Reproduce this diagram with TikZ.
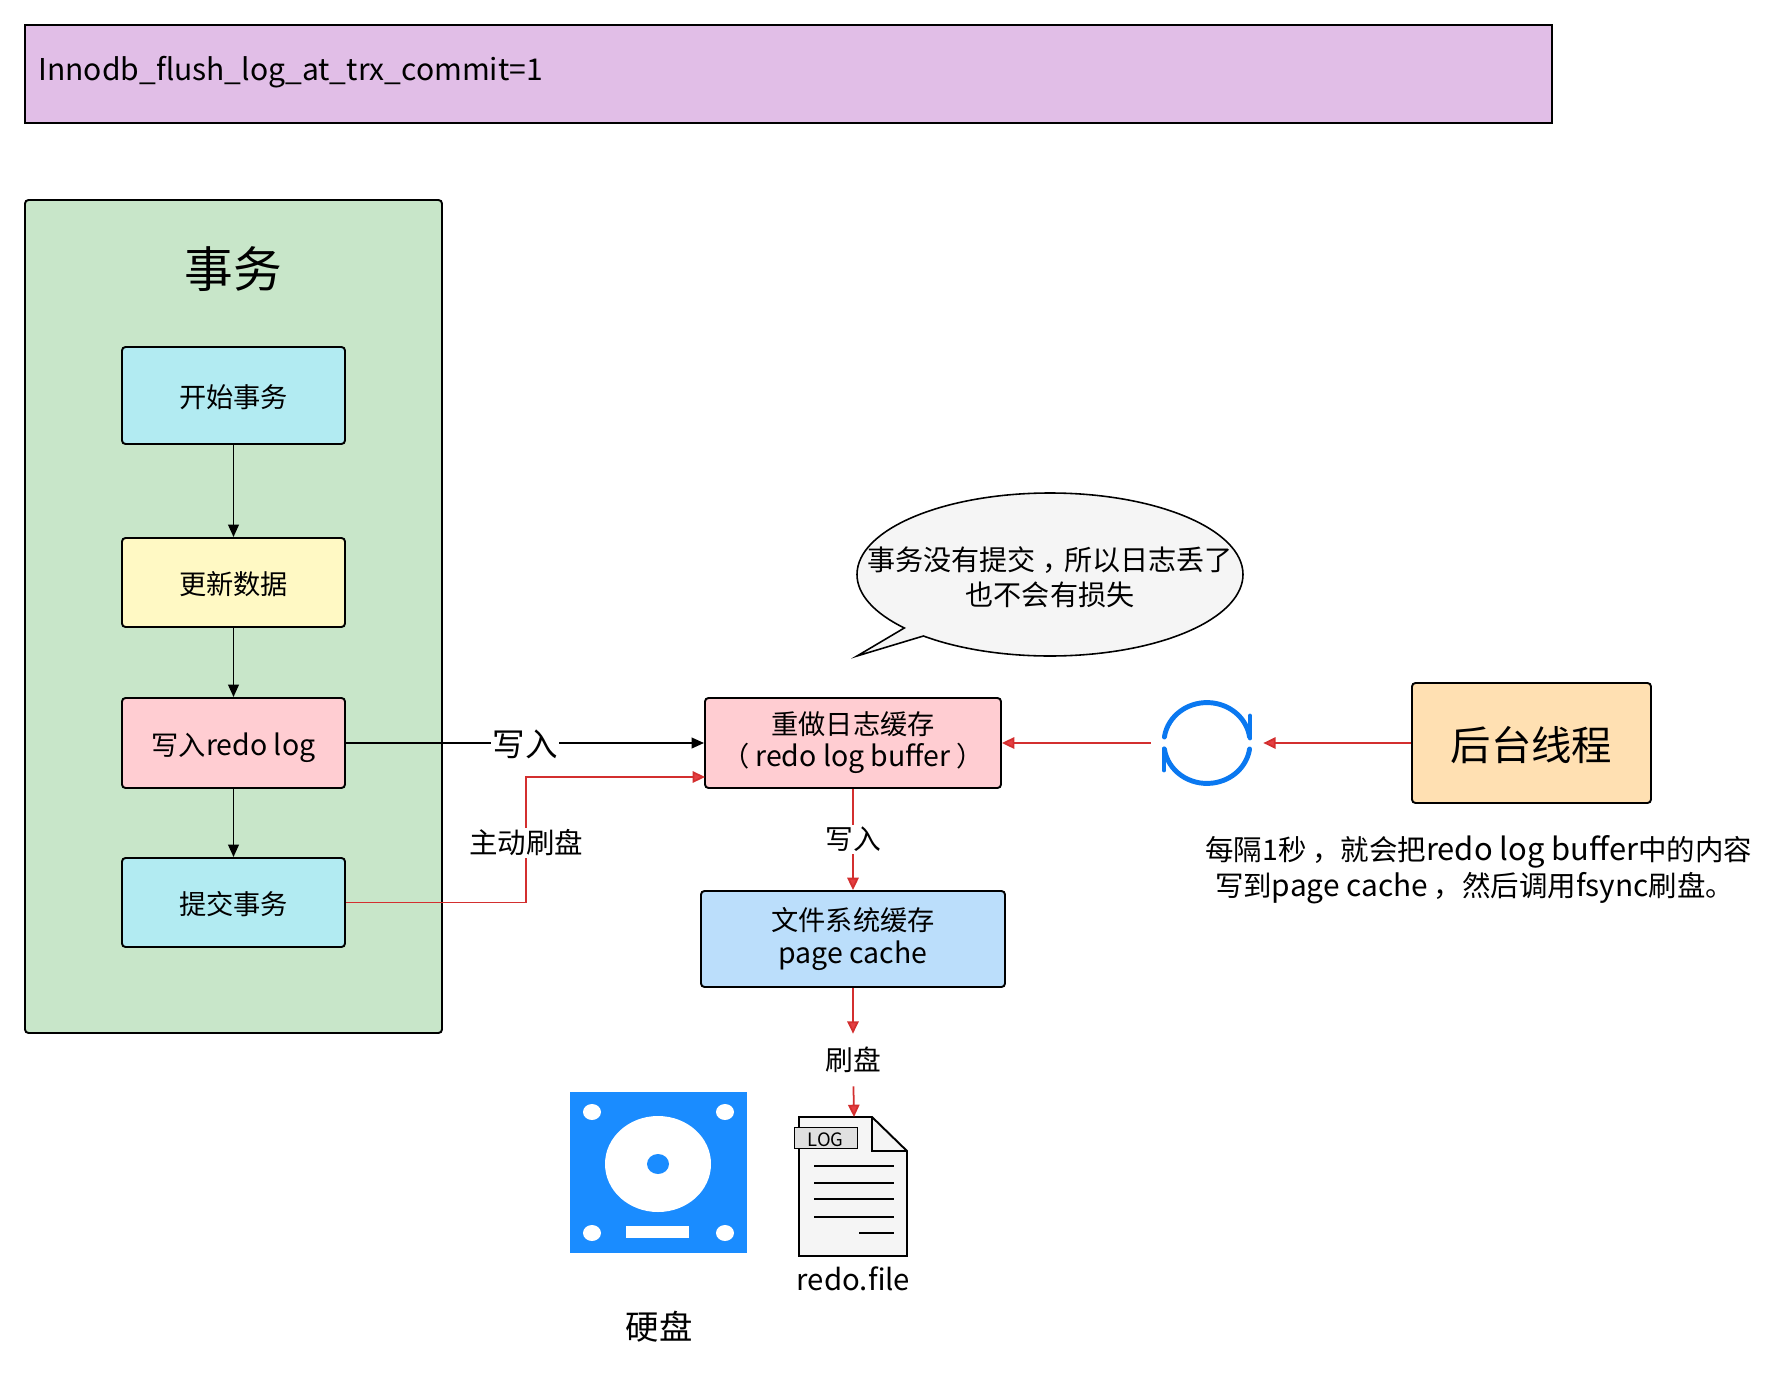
\documentclass[tikz,border=0pt]{standalone}
\usepackage{fontspec}
\setmainfont{Noto Sans CJK SC}
\usetikzlibrary{arrows.meta,shapes.callouts}
\definecolor{barfill}{HTML}{E1BEE7}
\definecolor{panelfill}{HTML}{C8E6C9}
\definecolor{cyanfill}{HTML}{B2EBF2}
\definecolor{yellowfill}{HTML}{FFF9C4}
\definecolor{pinkfill}{HTML}{FFCDD2}
\definecolor{bluefill}{HTML}{BBDEFB}
\definecolor{orangefill}{HTML}{FFE0B2}
\definecolor{greyfill}{HTML}{F5F5F5}
\definecolor{redline}{HTML}{D32F2F}
\definecolor{redtip}{HTML}{E53F42}
\definecolor{diskblue}{HTML}{1A8CFF}
\definecolor{loopblue}{HTML}{0A78F0}
\newcommand{\lat}[2][16.2pt]{{\fontsize{#1}{18.5pt}\selectfont #2}}
\newcommand{\wcomma}{\hspace{0.2em}，}
\tikzset{
  box/.style={draw, line width=1.1pt, rounded corners=2pt, align=center, inner sep=0pt,
    font=\fontsize{15.5pt}{18.5pt}\selectfont,
    execute at begin node={\rule[-4.3pt]{0pt}{22.6pt}}},
  blackarrow/.style={-{Triangle[length=7pt,width=6pt]}, line width=1.1pt, black},
  redarrow/.style={-{Triangle[length=7pt,width=6.5pt,fill=redtip]}, line width=1pt, redline},
  lab/.style={fill=white, inner sep=1pt, text=black, font=\fontsize{15.8pt}{18pt}\selectfont},
}
\begin{document}
\begin{tikzpicture}
    \def\x{0.02}
    \def\y{-0.02}
    \useasboundingbox (0, 0) rectangle (1781*\x, 1380*\y);
    \node (A0_0) [draw, line width=1.1pt, fill=barfill, minimum width=1527*\x cm, minimum height=98*\x cm] at (788.5*\x, 74*\y) {};
    \node (A0_1) [anchor=west, inner sep=0pt, font=\fontsize{17.1pt}{20pt}\selectfont] at (38*\x, 72*\y) {Innodb\_flush\_log\_at\_trx\_commit=1};
    \node (A1_0) [draw, line width=1.1pt, rounded corners=2pt, fill=panelfill, minimum width=417*\x cm, minimum height=833*\x cm] at (233.5*\x, 616.5*\y) {};
    \node (A1_1) [inner sep=0pt, font=\fontsize{27.7pt}{30pt}\selectfont] at (233*\x, 269*\y) {事务};
    \node (A2_0) [box, fill=cyanfill, minimum width=223*\x cm, minimum height=97*\x cm] at (233.5*\x, 395.5*\y) {开始事务};
    \node (A3_0) [box, fill=yellowfill, minimum width=223*\x cm, minimum height=89*\x cm] at (233.5*\x, 582.5*\y) {更新数据};
    \node (A4_0) [box, fill=pinkfill, minimum width=223*\x cm, minimum height=90*\x cm] at (233.5*\x, 743*\y) {写入\lat{redo log}};
    \node (A5_0) [box, fill=cyanfill, minimum width=223*\x cm, minimum height=89*\x cm] at (233.5*\x, 902.5*\y) {提交事务};
    \node (A4_1) [box, fill=pinkfill, minimum width=296*\x cm, minimum height=90*\x cm] at (853*\x, 743*\y) {重做日志缓存\\（ \lat{redo log buffer} ）};
    \node (A5_1) [box, fill=bluefill, minimum width=304*\x cm, minimum height=96*\x cm] at (853*\x, 939*\y) {文件系统缓存\\\lat{page cache}};
    \node (A4_2) [minimum width=112*\x cm, minimum height=90*\x cm, inner sep=0pt] at (1207*\x, 743*\y) {};
    \node (A4_3) [draw, line width=1.1pt, rounded corners=2pt, fill=orangefill, inner sep=0pt, minimum width=239*\x cm, minimum height=120*\x cm, text height=24pt, text depth=4pt, font=\fontsize{23pt}{26pt}\selectfont] at (1531.5*\x, 743*\y) {后台线程};
    \node (A3_2) [ellipse callout, draw, line width=0.9pt, fill=greyfill, inner sep=0pt,
      minimum width=386*\x cm, minimum height=163*\x cm, callout pointer arc=8,
      callout absolute pointer={(857*\x, 656*\y)}] at (1050*\x, 574.5*\y) {};
    \node (A3_3) [inner sep=0pt, align=center, font=\fontsize{16pt}{20pt}\selectfont] at (1050*\x, 577*\y) {事务没有提交\hspace{0.25em}，\hspace{-0.25em}所以日志丢了\\也不会有损失};
    \node (A5_3) [anchor=west, inner sep=0pt, align=left, font=\fontsize{16.2pt}{20.7pt}\selectfont] at (1205*\x, 870*\y) {每隔1秒\wcomma 就会把\lat[17.6pt]{redo log buffer}中的内容\\\hspace*{5.5pt}写到\lat[17pt]{page cache}\wcomma 然后调用\lat[17pt]{fsync}刷盘。};
    \node (A5_2) [lab, fill=none, inner sep=0pt, minimum height=52*\x cm] at (853*\x, 1060*\y) {刷盘};
    \coordinate (A6_1) at (854*\x, 1117*\y);
    \coordinate (A4_4) at (705*\x, 777*\y);
    \coordinate (A5_4) at (526*\x, 777*\y);
    % refresh icon
    \draw [loopblue, line width=2.8pt, line cap=round] (1164.4*\x, 737*\y) arc [start angle=172, end angle=8, x radius=43*\x, y radius=40*\x];
    \draw [loopblue, line width=2.8pt, line cap=round] (1164.4*\x, 749*\y) arc [start angle=188, end angle=352, x radius=43*\x, y radius=40*\x];
    \draw [loopblue, line width=2.8pt, line cap=round] (1250*\x, 716*\y) -- (1250*\x, 738*\y);
    \draw [loopblue, line width=2.8pt, line cap=round] (1164*\x, 749*\y) -- (1164*\x, 770*\y);
    % disk
    \fill [diskblue] (570*\x, 1092*\y) rectangle (747*\x, 1253*\y);
    \fill [white] (592*\x, 1112*\y) ellipse [x radius=9*\x, y radius=8*\x];
    \fill [white] (725*\x, 1112*\y) ellipse [x radius=9*\x, y radius=8*\x];
    \fill [white] (592*\x, 1233*\y) ellipse [x radius=9*\x, y radius=8*\x];
    \fill [white] (725*\x, 1233*\y) ellipse [x radius=9*\x, y radius=8*\x];
    \fill [white] (658*\x, 1164*\y) ellipse [x radius=53*\x, y radius=48*\x];
    \fill [diskblue] (658*\x, 1164*\y) ellipse [x radius=11*\x, y radius=10*\x];
    \fill [white] (626*\x, 1226*\y) rectangle (689*\x, 1238*\y);
    \node (A7_0) [inner sep=0pt, font=\fontsize{19pt}{20pt}\selectfont] at (659*\x, 1327*\y) {硬盘};
    % file
    \draw [fill=greyfill, line width=1.1pt] (799*\x, 1117*\y) -- (872*\x, 1117*\y) -- (907*\x, 1151*\y) -- (907*\x, 1256*\y) -- (799*\x, 1256*\y) -- cycle;
    \draw [line width=1.1pt] (872*\x, 1117*\y) -- (872*\x, 1151*\y) -- (907*\x, 1151*\y);
    \node (A6_2) [draw, line width=0.5pt, fill=black!12, inner sep=0pt, minimum width=63*\x cm, minimum height=21*\x cm, text height=10pt, text depth=0pt, font=\fontsize{10.5pt}{11pt}\selectfont] at (825.5*\x, 1137.5*\y) {LOG};
    \draw [line width=0.9pt] (814*\x, 1166*\y) -- (894*\x, 1166*\y);
    \draw [line width=0.9pt] (814*\x, 1183*\y) -- (894*\x, 1183*\y);
    \draw [line width=0.9pt] (814*\x, 1199*\y) -- (894*\x, 1199*\y);
    \draw [line width=0.9pt] (814*\x, 1217*\y) -- (894*\x, 1217*\y);
    \draw [line width=0.9pt] (859*\x, 1233*\y) -- (894*\x, 1233*\y);
    \node (A7_1) [inner sep=0pt, font=\fontsize{16.7pt}{18pt}\selectfont] at (853.5*\x, 1279*\y) {redo.file};
    % connectors
    \path (A2_0) edge [blackarrow] (A3_0);
    \path (A3_0) edge [blackarrow] (A4_0);
    \path (A4_0) edge [blackarrow] (A5_0);
    \path (A4_0) edge [blackarrow] node [lab, yshift=-1pt, font=\fontsize{18.5pt}{20pt}\selectfont] {写入} (A4_1);
    \draw [redarrow] (A5_0) -| (A5_4) -- (A4_4);
    \node (A5_5) [lab, font=\fontsize{16.2pt}{18pt}\selectfont] at (526*\x, 843*\y) {主动刷盘};
    \path (A4_3) edge [redarrow] (A4_2);
    \path (A4_2) edge [redarrow] (A4_1);
    \path (A4_1) edge [redarrow] node [lab] {写入} (A5_1);
    \path (A5_1) edge [redarrow] (A5_2);
    \path (A5_2) edge [redarrow] (A6_1);
  \end{tikzpicture}
\end{document}
